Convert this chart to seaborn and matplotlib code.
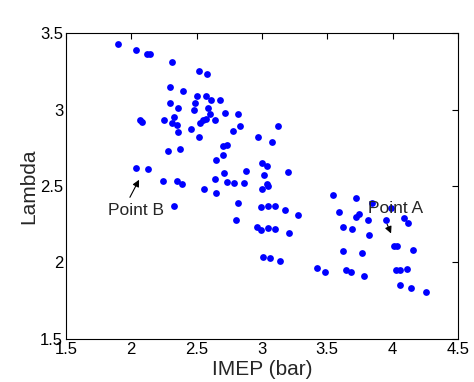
import numpy as np
import pandas as pd
import matplotlib
matplotlib.use("Agg")
import matplotlib.pyplot as plt
import seaborn as sns

# IMEP (bar) and lambda values
imep = [
    1.90, 2.04, 2.12, 2.14, 2.31, 2.52, 2.58, 2.30, 2.40, 2.50,
    2.57, 2.49, 2.61, 2.68, 2.30, 2.36, 2.48, 2.59, 2.60, 2.72,
    2.82, 2.57, 2.55, 2.53, 2.64, 2.83, 3.12, 2.46, 2.78, 2.97,
    3.08, 2.52, 2.07, 2.08, 2.25, 2.31, 2.33, 2.35, 2.36, 2.37,
    2.28, 2.73, 2.70, 2.70, 2.65, 3.00, 3.04, 3.20, 2.88, 2.71,
    3.02, 2.64, 2.04, 2.125, 2.245, 2.35, 2.39, 2.56, 2.65, 2.33,
    2.73, 2.785, 2.86, 3.04, 3.05, 3.00, 2.82, 2.99, 3.05, 3.10,
    3.18, 3.28, 2.80, 2.96, 2.99, 3.05, 3.10, 3.21, 3.01, 3.06,
    3.14, 3.42, 3.48, 3.545, 3.72, 3.59, 3.74, 3.72, 3.81, 3.95,
    4.09, 4.12, 3.99, 3.84, 3.62, 3.69, 3.82, 4.01, 4.035, 4.16,
    3.62, 3.765, 3.64, 3.68, 3.78, 4.025, 4.06, 4.11, 4.06, 4.145,
    4.255,
]
lam = [
    3.43, 3.39, 3.365, 3.36, 3.31, 3.25, 3.23, 3.15, 3.12, 3.09,
    3.09, 3.04, 3.06, 3.06, 3.04, 3.01, 3.00, 3.01, 2.97, 2.98,
    2.97, 2.94, 2.93, 2.91, 2.93, 2.89, 2.89, 2.87, 2.86, 2.82,
    2.79, 2.82, 2.93, 2.92, 2.93, 2.91, 2.95, 2.90, 2.85, 2.74,
    2.73, 2.77, 2.76, 2.70, 2.67, 2.65, 2.63, 2.59, 2.60, 2.585,
    2.57, 2.545, 2.62, 2.61, 2.535, 2.53, 2.51, 2.48, 2.455, 2.37,
    2.526, 2.52, 2.52, 2.51, 2.50, 2.48, 2.39, 2.36, 2.37, 2.37,
    2.34, 2.31, 2.28, 2.235, 2.215, 2.225, 2.22, 2.19, 2.036, 2.027,
    2.01, 1.964, 1.94, 2.44, 2.42, 2.33, 2.32, 2.295, 2.28, 2.28,
    2.29, 2.26, 2.354, 2.39, 2.235, 2.22, 2.18, 2.11, 2.11, 2.08,
    2.075, 2.065, 1.953, 1.936, 1.914, 1.953, 1.953, 1.96, 1.855, 1.83,
    1.81,
]

x_ticks = [1.5, 2, 2.5, 3, 3.5, 4, 4.5]
y_ticks = [1.5, 2, 2.5, 3, 3.5]

df = pd.DataFrame({"IMEP": imep, "Lambda": lam})

sns.set_style("white")
plt.rcParams["font.family"] = ["Liberation Sans", "DejaVu Sans"]

fig = plt.figure(figsize=(4.74, 3.82), dpi=100)
ax = fig.add_axes([0.139, 0.1126, 0.827, 0.801])

sns.scatterplot(data=df, x="IMEP", y="Lambda", ax=ax, color="#0000ff",
                s=24, linewidth=0, legend=False)

ax.set_xlim(1.5, 4.5)
ax.set_ylim(1.5, 3.5)
ax.set_xticks(x_ticks)
ax.set_yticks(y_ticks)
ax.set_xticklabels([f"{t:g}" for t in x_ticks])
ax.set_yticklabels([f"{t:g}" for t in y_ticks])
ax.tick_params(direction="in", length=4, width=0.8, top=True, right=True,
               labelsize=12, pad=2, colors="black")
for sp in ax.spines.values():
    sp.set_color("black")
    sp.set_linewidth(0.8)

ax.set_xlabel("IMEP (bar)", fontsize=15, labelpad=2)
ax.set_ylabel("Lambda", fontsize=15, labelpad=1)

# annotations
ax.text(2.04, 2.34, "Point B", fontsize=12.5, ha="center", va="center")
ax.annotate("", xy=(2.07, 2.557), xytext=(1.98, 2.41),
            arrowprops=dict(arrowstyle="-|>", color="black", lw=0.8,
                            mutation_scale=10))
ax.text(4.02, 2.354, "Point A", fontsize=12.5, ha="center", va="center")
ax.annotate("", xy=(3.997, 2.173), xytext=(3.95, 2.267),
            arrowprops=dict(arrowstyle="-|>", color="black", lw=0.8,
                            mutation_scale=10))

fig.savefig("out.png", dpi=100)
